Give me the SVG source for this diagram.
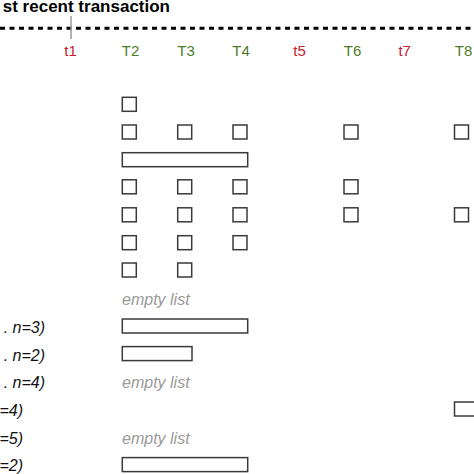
<svg xmlns="http://www.w3.org/2000/svg" width="474" height="474" viewBox="0 0 474 474">
<style>
.hdr{font-family:"Liberation Sans",Arial,sans-serif;font-weight:bold;font-size:17px;fill:#000}
.lab{font-family:"Liberation Sans",Arial,sans-serif;font-size:15px;text-anchor:middle}
.red{fill:#c8202f}
.grn{fill:#4e7c2a}
.side{font-family:"Liberation Sans",Arial,sans-serif;font-style:italic;font-size:16px;fill:#111;text-anchor:end}
.empty{font-family:"Liberation Sans",Arial,sans-serif;font-style:italic;font-size:16px;fill:#999}
.box{fill:#fff;stroke:#3a3a3a;stroke-width:1.5}
</style>
<rect width="474" height="474" fill="#fff"/>
<g id="header">
<text class="hdr" x="170" y="12" text-anchor="end">st recent transaction</text>
<line x1="0" y1="28.3" x2="474" y2="28.3" stroke="#000" stroke-width="3" stroke-dasharray="5 4.5"/>
<line x1="71" y1="16" x2="71" y2="39" stroke="#999" stroke-width="1.5"/>
</g>
<g id="columns">
<text class="lab red" x="70.5" y="55.7">t1</text>
<text class="lab grn" x="130.5" y="55.7">T2</text>
<text class="lab grn" x="186" y="55.7">T3</text>
<text class="lab grn" x="241" y="55.7">T4</text>
<text class="lab red" x="299.5" y="55.7">t5</text>
<text class="lab grn" x="352.5" y="55.7">T6</text>
<text class="lab red" x="404.7" y="55.7">t7</text>
<text class="lab grn" x="463.5" y="55.7">T8</text>
</g>
<g id="row0"><rect class="box" x="122.3" y="97.3" width="14" height="14"/></g>
<g id="row1">
<rect class="box" x="122.3" y="125" width="14" height="14"/>
<rect class="box" x="177.7" y="125" width="14" height="14"/>
<rect class="box" x="233" y="125" width="14" height="14"/>
<rect class="box" x="344" y="125" width="14" height="14"/>
<rect class="box" x="454.5" y="125" width="14" height="14"/>
</g>
<g id="row2"><rect class="box" x="122.3" y="152.7" width="125.4" height="14"/></g>
<g id="row3">
<rect class="box" x="122.3" y="179.8" width="14" height="14"/>
<rect class="box" x="177.7" y="179.8" width="14" height="14"/>
<rect class="box" x="233" y="179.8" width="14" height="14"/>
<rect class="box" x="344" y="179.8" width="14" height="14"/>
</g>
<g id="row4">
<rect class="box" x="122.3" y="207.8" width="14" height="14"/>
<rect class="box" x="177.7" y="207.8" width="14" height="14"/>
<rect class="box" x="233" y="207.8" width="14" height="14"/>
<rect class="box" x="344" y="207.8" width="14" height="14"/>
<rect class="box" x="454.5" y="207.8" width="14" height="14"/>
</g>
<g id="row5">
<rect class="box" x="122.3" y="235.7" width="14" height="14"/>
<rect class="box" x="177.7" y="235.7" width="14" height="14"/>
<rect class="box" x="233" y="235.7" width="14" height="14"/>
</g>
<g id="row6">
<rect class="box" x="122.3" y="263" width="14" height="14"/>
<rect class="box" x="177.7" y="263" width="14" height="14"/>
</g>
<g id="row7"><text class="empty" x="122" y="305">empty list</text></g>
<g id="row8">
<text class="side" x="45" y="333">. n=3)</text>
<rect class="box" x="122.3" y="319" width="125.4" height="14"/>
</g>
<g id="row9">
<text class="side" x="45" y="360.5">. n=2)</text>
<rect class="box" x="122.3" y="346.6" width="69.7" height="14"/>
</g>
<g id="row10">
<text class="side" x="45" y="388.3">. n=4)</text>
<text class="empty" x="122" y="388.3">empty list</text>
</g>
<g id="row11">
<text class="side" x="23" y="416">=4)</text>
<rect class="box" x="454.5" y="402" width="30" height="14"/>
</g>
<g id="row12">
<text class="side" x="23" y="443.5">=5)</text>
<text class="empty" x="122" y="443.5">empty list</text>
</g>
<g id="row13">
<text class="side" x="23" y="471.3">=2)</text>
<rect class="box" x="122.3" y="457.6" width="125.4" height="14"/>
</g>
<g id="connectors"></g>
</svg>
